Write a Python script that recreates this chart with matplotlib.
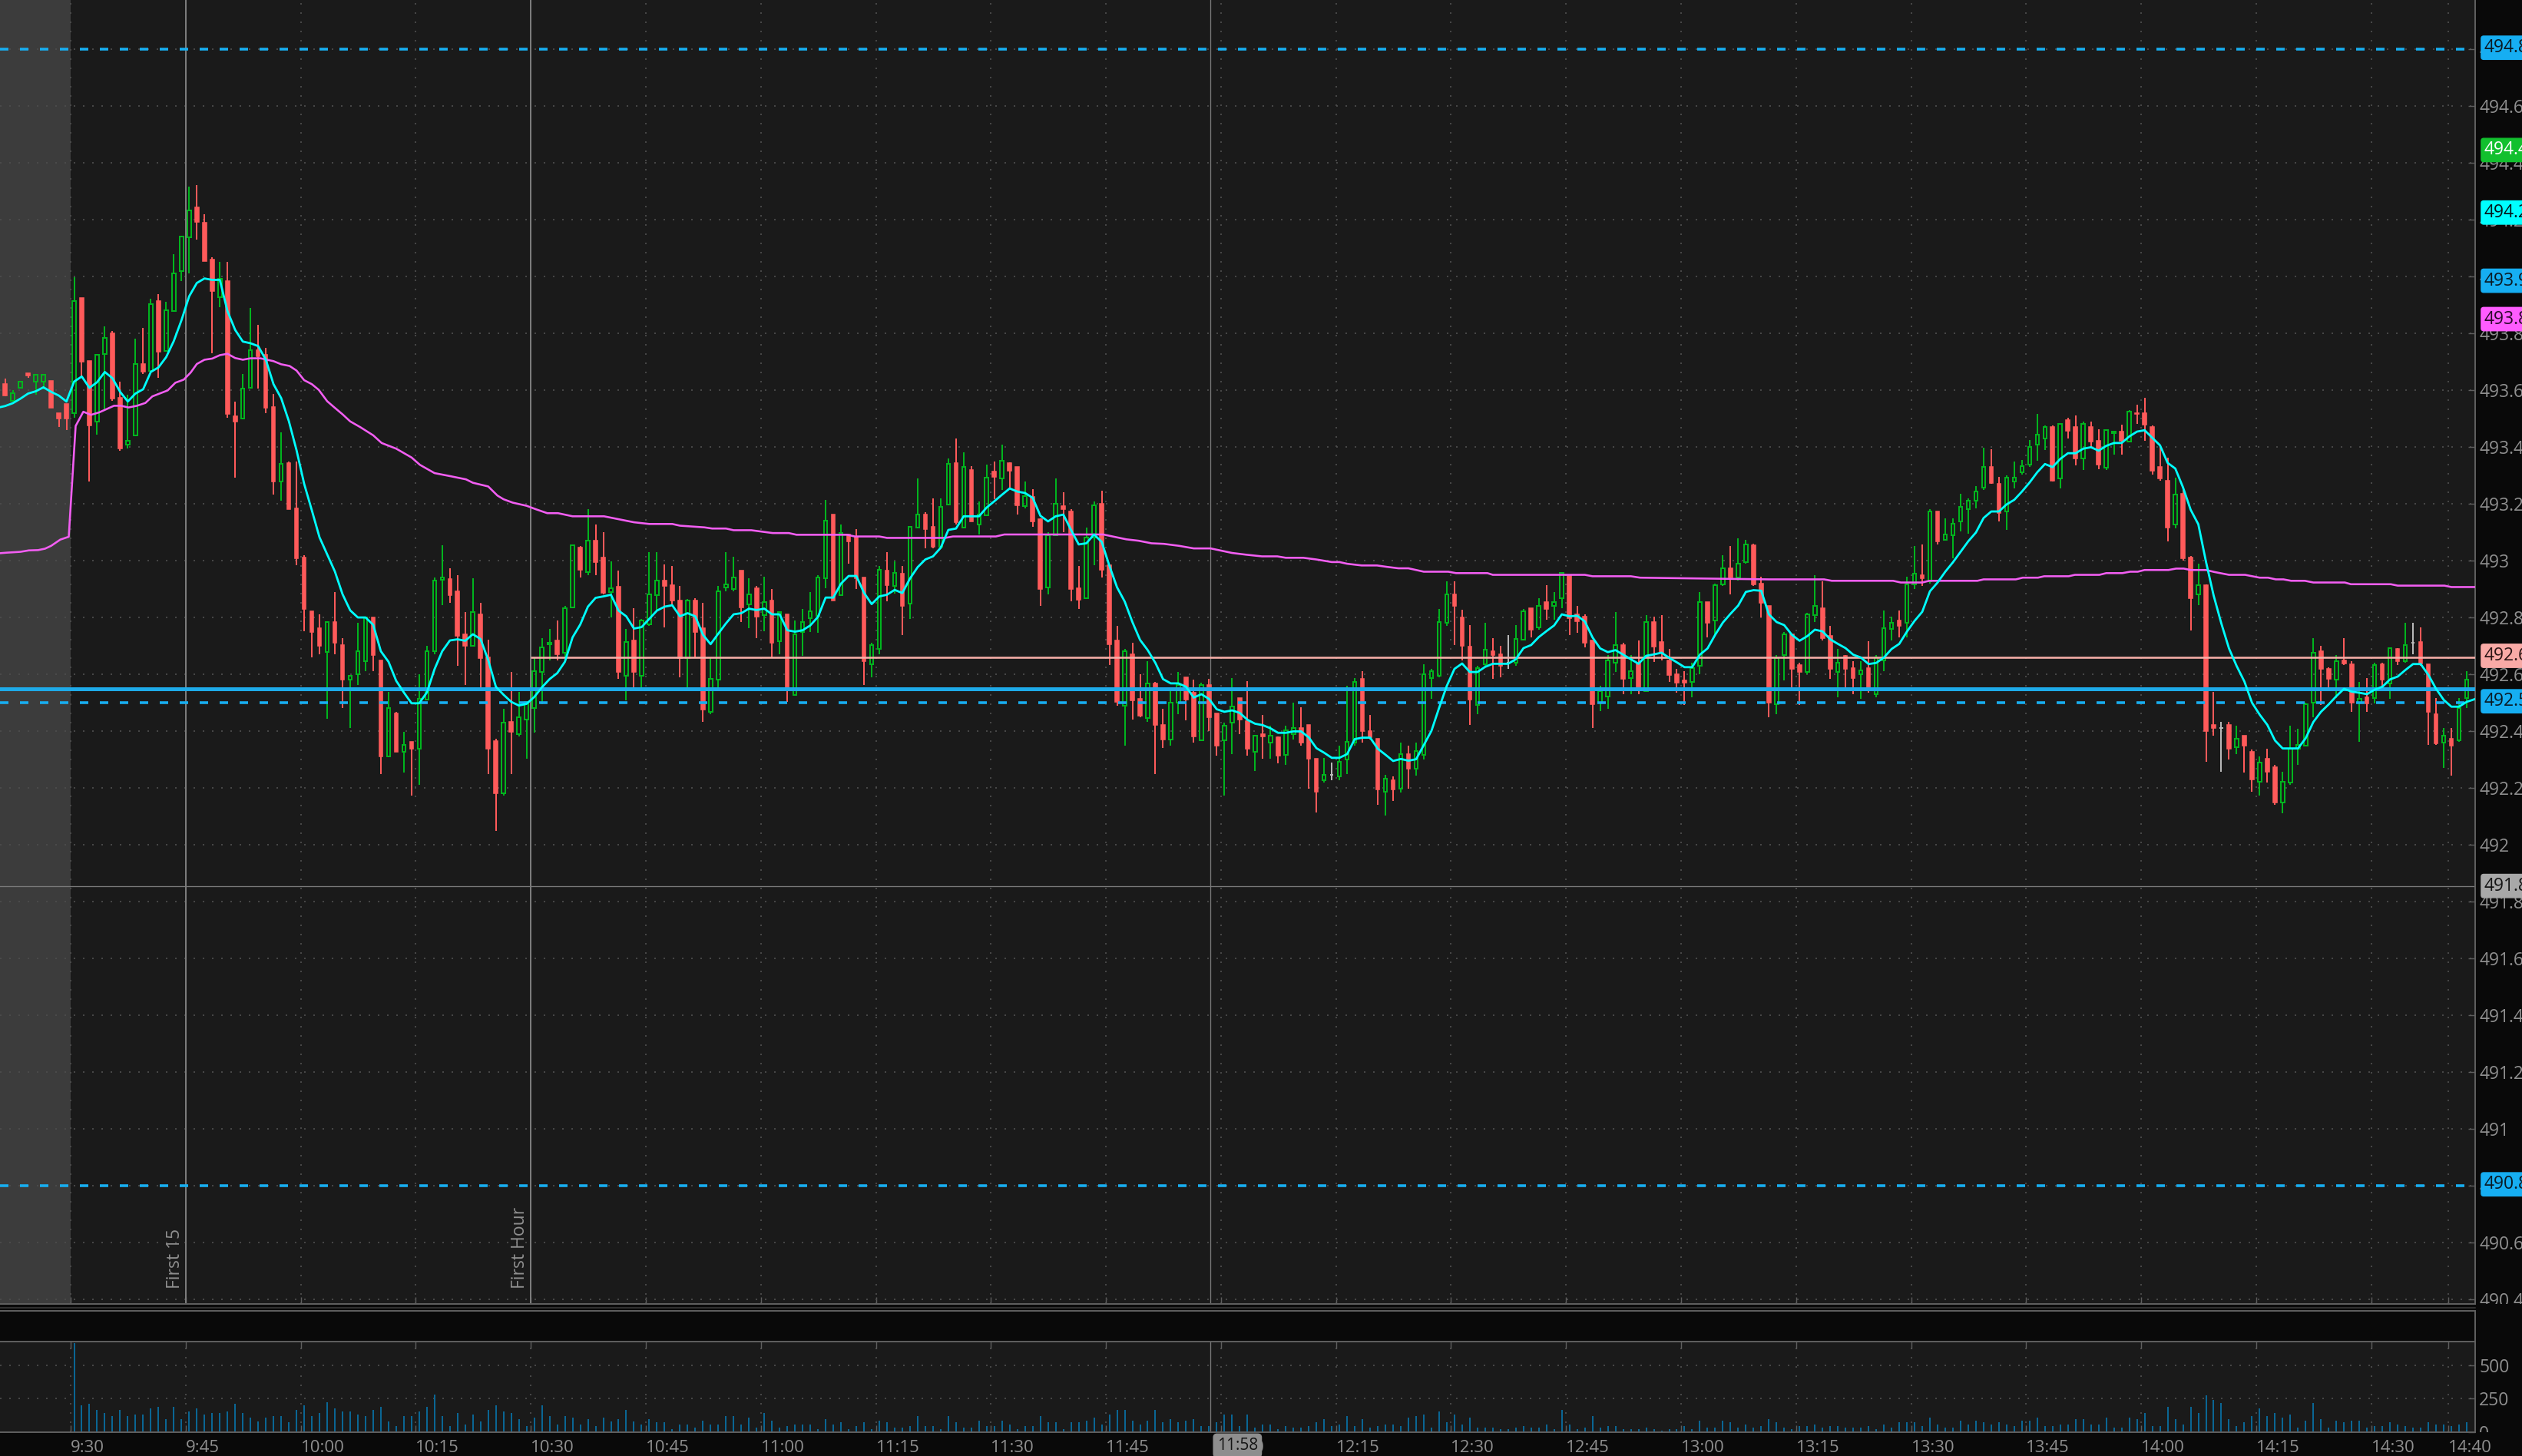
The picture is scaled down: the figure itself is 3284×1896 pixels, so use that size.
import matplotlib
matplotlib.use("Agg")
import matplotlib.pyplot as plt
from matplotlib.lines import Line2D
from matplotlib.transforms import Bbox
import numpy as np

plt.rcParams["font.family"] = ["Open Sans", "DejaVu Sans"]
plt.rcParams["lines.scale_dashes"] = False

# one minute candles, first row starts 9 bars before the 9:30 open
opens = [
493.623,493.562,493.608,493.660,493.630,493.630,493.632,493.519,493.551,
493.518,493.925,493.703,493.489,493.728,493.800,493.574,493.408,493.441,493.693,
493.668,493.913,493.738,493.878,494.018,494.139,494.244,494.190,494.060,493.928,
493.984,493.509,493.500,493.608,493.741,493.725,493.540,493.279,493.342,493.185,
493.011,492.822,492.763,492.678,492.784,492.703,492.582,492.600,492.647,492.800,
492.650,492.311,492.461,492.328,492.362,492.338,492.512,492.680,492.933,492.936,
492.892,492.740,492.700,492.812,492.660,492.364,492.181,492.432,492.388,492.442,
492.480,492.608,492.706,492.719,492.677,492.836,493.045,492.960,493.071,493.012,
492.888,492.909,492.596,492.720,492.596,492.775,492.878,492.930,492.914,492.860,
492.657,492.860,492.763,492.468,492.581,492.906,492.900,492.964,492.847,492.904,
492.809,492.860,492.716,492.811,492.527,492.748,492.797,492.806,492.939,493.162,
492.878,493.092,493.085,492.941,492.635,492.689,492.964,492.910,492.953,492.850,
493.115,493.162,493.120,493.050,493.198,493.342,493.117,493.320,493.128,493.160,
493.314,493.290,493.342,493.331,493.191,493.225,493.147,492.905,493.090,493.191,
493.174,492.904,492.867,493.081,493.201,492.984,492.720,492.490,492.671,492.514,
492.446,492.569,492.423,492.371,492.500,492.588,492.536,492.369,492.563,492.461,
492.369,492.430,492.515,492.434,492.326,492.390,492.360,492.378,492.317,492.390,
492.412,492.423,492.304,492.228,492.247,492.241,492.300,492.360,492.585,492.401,
492.374,492.186,492.228,492.198,492.320,492.268,492.317,492.587,492.596,492.781,
492.881,492.800,492.697,492.491,492.635,492.682,492.670,492.640,492.641,492.722,
492.833,492.764,492.854,492.840,492.867,492.950,492.811,492.802,492.719,492.500,
492.522,492.641,492.703,492.587,492.638,492.542,492.784,492.713,492.649,492.600,
492.578,492.572,492.631,492.854,492.788,492.917,492.973,492.940,492.995,493.054,
492.919,492.842,492.495,492.667,492.740,492.632,492.608,492.809,492.832,492.734,
492.608,492.665,492.622,492.600,492.622,492.529,492.649,492.759,492.788,492.782,
492.916,492.950,492.928,493.173,493.074,493.090,493.139,493.180,493.210,493.257,
493.330,493.270,493.173,493.279,493.311,493.339,493.408,493.430,493.471,493.290,
493.494,493.471,493.360,493.471,493.422,493.326,493.448,493.454,493.419,493.520,
493.520,493.471,493.331,493.282,493.128,493.234,493.011,492.880,492.913,492.422,
492.411,492.422,492.344,492.385,492.326,492.223,492.303,492.272,492.150,492.219,
492.339,492.350,492.499,492.681,492.618,492.582,492.649,492.634,492.500,492.520,
492.517,492.634,492.567,492.688,492.647,492.711,492.713,492.634,492.460,492.360,
492.373,492.368,492.517]
closes = [
493.580,493.590,493.631,493.651,493.653,493.653,493.537,493.500,493.500,
493.913,493.700,493.477,493.724,493.783,493.570,493.394,493.421,493.692,493.666,
493.902,493.736,493.880,494.010,494.140,494.232,494.191,494.055,493.948,493.991,
493.515,493.489,493.605,493.741,493.720,493.537,493.279,493.340,493.180,493.007,
492.830,492.748,492.700,492.783,492.711,492.581,492.594,492.680,492.800,492.667,
492.310,492.481,492.327,492.351,492.337,492.513,492.681,492.930,492.940,492.878,
492.736,492.700,492.820,492.656,492.337,492.180,492.431,492.397,492.448,492.503,
492.610,492.696,492.710,492.671,492.832,493.054,492.968,493.071,492.996,492.887,
492.903,492.608,492.714,492.608,492.790,492.881,492.930,492.910,492.860,492.658,
492.859,492.748,492.477,492.584,492.892,492.915,492.940,492.834,492.881,492.802,
492.853,492.710,492.820,492.545,492.740,492.783,492.821,492.940,493.140,492.860,
493.097,493.068,492.937,492.646,492.703,492.968,492.914,492.957,492.840,493.119,
493.162,493.110,493.048,493.189,493.340,493.135,493.329,493.138,493.162,493.292,
493.295,493.351,493.315,493.196,493.227,493.137,492.899,493.090,493.200,493.180,
492.900,492.861,493.081,493.195,492.969,492.705,492.504,492.682,492.509,492.455,
492.568,492.423,492.370,492.500,492.563,492.511,492.380,492.561,492.450,492.349,
492.420,492.486,492.440,492.337,492.385,492.380,492.383,492.315,492.404,492.410,
492.360,492.304,492.186,492.247,492.247,492.293,492.362,492.574,492.401,492.378,
492.196,492.232,492.196,492.318,492.268,492.329,492.600,492.611,492.783,492.881,
492.840,492.699,492.510,492.622,492.686,492.667,492.630,492.640,492.724,492.822,
492.758,492.842,492.829,492.854,492.957,492.797,492.786,492.710,492.495,492.540,
492.649,492.703,492.585,492.611,492.545,492.784,492.698,492.676,492.598,492.571,
492.570,492.623,492.854,492.781,492.913,492.973,492.940,492.988,493.058,492.917,
492.851,492.500,492.658,492.740,492.619,492.608,492.811,492.842,492.727,492.619,
492.642,492.619,492.587,492.614,492.550,492.659,492.761,492.782,492.770,492.917,
492.955,492.937,493.173,493.067,493.092,493.130,493.189,493.211,493.242,493.329,
493.272,493.169,493.291,493.291,493.333,493.399,493.443,493.470,493.282,493.482,
493.457,493.359,493.481,493.418,493.337,493.459,493.455,493.422,493.524,493.516,
493.479,493.317,493.289,493.117,493.232,493.008,492.867,492.913,492.401,492.410,
492.411,492.337,492.372,492.350,492.230,492.290,492.256,492.148,492.221,492.339,
492.352,492.496,492.675,492.618,492.585,492.647,492.639,492.500,492.513,492.497,
492.632,492.580,492.692,492.646,492.703,492.711,492.639,492.467,492.358,492.384,
492.350,492.482,492.582]
highs = [
493.641,493.600,493.631,493.660,493.653,493.653,493.632,493.519,493.551,
493.997,493.925,493.703,493.724,493.825,493.809,493.630,493.585,493.782,493.820,
493.922,493.938,493.911,494.079,494.140,494.317,494.322,494.219,494.067,494.052,
494.052,493.560,493.657,493.890,493.830,493.749,493.587,493.452,493.349,493.350,
493.020,492.822,492.810,492.787,492.890,492.727,492.594,492.782,492.800,492.800,
492.650,492.539,492.469,492.398,492.362,492.600,492.699,492.940,493.053,492.972,
492.950,492.820,492.939,492.852,492.722,492.372,492.479,492.608,492.539,492.503,
492.660,492.727,492.760,492.788,492.841,493.058,493.052,493.182,493.128,493.101,
492.997,492.966,492.760,492.832,492.796,493.030,493.030,492.987,492.982,492.912,
492.866,492.868,492.852,492.658,492.912,493.030,493.014,492.964,492.939,492.910,
492.944,492.900,492.820,492.811,492.788,492.830,492.890,492.950,493.214,493.162,
493.128,493.096,493.112,492.941,492.712,492.982,493.031,492.998,492.982,493.122,
493.290,493.171,493.220,493.220,493.360,493.430,493.381,493.333,493.209,493.338,
493.350,493.409,493.347,493.331,493.279,493.252,493.150,493.100,493.290,493.241,
493.180,492.982,493.117,493.209,493.247,492.984,492.770,492.690,492.712,492.600,
492.647,492.573,492.479,492.550,492.609,492.588,492.582,492.570,492.583,492.461,
492.430,492.587,492.515,492.577,492.385,492.458,492.420,492.380,492.419,492.500,
492.485,492.423,492.304,492.305,492.290,492.350,492.560,492.587,492.610,492.458,
492.374,492.246,492.241,492.360,492.350,492.360,492.636,492.620,492.830,492.928,
492.928,492.826,492.772,492.630,492.782,492.728,492.700,492.739,492.772,492.830,
492.833,492.869,492.913,492.890,492.960,492.950,492.842,492.811,492.719,492.560,
492.668,492.820,492.712,492.668,492.718,492.809,492.803,492.809,492.689,492.620,
492.611,492.640,492.890,492.854,492.920,493.020,493.052,493.079,493.074,493.060,
492.944,492.842,492.667,492.748,492.740,492.640,492.815,492.950,492.928,492.770,
492.689,492.668,492.647,492.647,492.716,492.667,492.824,492.804,492.824,492.944,
493.052,493.057,493.182,493.173,493.149,493.149,493.236,493.219,493.263,493.398,
493.393,493.295,493.300,493.350,493.354,493.425,493.516,493.475,493.475,493.485,
493.502,493.512,493.489,493.489,493.463,493.463,493.457,493.479,493.530,493.550,
493.572,493.475,493.406,493.361,493.291,493.258,493.015,492.988,492.915,492.539,
492.432,492.432,492.420,492.385,492.334,492.312,492.339,492.280,492.258,492.420,
492.408,492.500,492.727,492.700,492.625,492.668,492.728,492.646,492.572,492.587,
492.641,492.641,492.695,492.691,492.782,492.782,492.765,492.634,492.517,492.410,
492.410,492.517,492.610]
lows = [
493.578,493.562,493.608,493.642,493.585,493.603,493.537,493.470,493.459,
493.502,493.648,493.279,493.443,493.531,493.561,493.387,493.394,493.441,493.657,
493.668,493.643,493.738,493.878,493.983,494.010,494.129,494.055,493.729,493.892,
493.502,493.292,493.500,493.608,493.605,493.518,493.232,493.210,493.180,492.984,
492.751,492.660,492.670,492.443,492.670,492.481,492.412,492.562,492.610,492.610,
492.248,492.311,492.327,492.254,492.172,492.210,492.512,492.670,492.843,492.852,
492.631,492.562,492.700,492.546,492.248,492.048,492.174,492.248,492.380,492.302,
492.394,492.495,492.650,492.649,492.660,492.836,492.940,492.950,492.950,492.880,
492.799,492.583,492.507,492.541,492.540,492.770,492.820,492.766,492.842,492.588,
492.541,492.657,492.432,492.459,492.554,492.892,492.892,492.784,492.761,492.728,
492.752,492.657,492.670,492.503,492.527,492.665,492.748,492.746,492.903,492.860,
492.878,492.988,492.900,492.561,492.588,492.671,492.858,492.883,492.739,492.794,
493.115,493.043,493.043,493.040,493.198,493.128,493.117,493.138,493.092,493.160,
493.216,493.250,493.252,493.162,493.185,493.119,492.841,492.880,493.090,493.101,
492.858,492.831,492.867,492.984,492.940,492.632,492.490,492.350,492.441,492.450,
492.432,492.248,492.340,492.350,492.459,492.437,492.360,492.369,492.400,492.313,
492.173,492.318,492.389,492.313,492.259,492.303,492.302,492.287,492.281,492.370,
492.350,492.198,492.113,492.220,492.227,492.227,492.248,492.350,492.360,492.370,
492.140,492.102,492.155,492.183,492.198,492.243,492.300,492.513,492.588,492.770,
492.703,492.649,492.421,492.460,492.630,492.583,492.588,492.620,492.630,492.722,
492.730,492.757,492.793,492.793,492.833,492.739,492.746,492.695,492.410,492.470,
492.479,492.608,492.530,492.530,492.530,492.540,492.643,492.650,492.572,492.534,
492.491,492.518,492.600,492.730,492.740,492.910,492.881,492.930,492.990,492.910,
492.800,492.449,492.460,492.578,492.540,492.491,492.600,492.784,492.720,492.584,
492.518,492.550,492.530,492.513,492.534,492.518,492.610,492.718,492.730,492.730,
492.900,492.912,492.919,493.058,493.070,493.009,493.102,493.096,493.183,493.250,
493.270,493.139,493.108,493.254,493.302,493.330,493.351,493.389,493.278,493.254,
493.431,493.335,493.318,493.400,493.322,493.320,493.373,493.372,493.415,493.480,
493.422,493.303,493.280,493.068,493.113,493.000,492.755,492.843,492.291,492.383,
492.258,492.301,492.318,492.254,492.187,492.174,492.220,492.140,492.112,492.210,
492.280,492.345,492.448,492.491,492.550,492.515,492.632,492.468,492.362,492.468,
492.497,492.545,492.513,492.632,492.640,492.670,492.630,492.352,492.352,492.270,
492.243,492.362,492.481]

# volume from 9:30 on, no bars before the open
volumes = [
665,200,211,165,142,118,165,118,130,130,177,188,95,188,95,153,177,130,142,142,
153,211,142,107,83,107,118,118,72,165,200,118,142,223,177,153,153,130,118,165,
188,83,48,118,118,153,188,281,118,48,142,60,130,83,165,200,153,142,95,48,
107,200,118,60,118,107,60,95,48,107,83,95,165,83,60,95,72,72,25,60,
60,36,84,60,60,120,120,60,108,36,144,84,36,48,60,60,60,24,96,60,
72,24,48,72,24,84,72,36,36,48,120,48,48,24,120,72,36,36,84,48,
48,84,60,24,48,48,120,72,72,24,72,72,84,108,60,132,168,168,84,60,
84,168,72,96,72,84,96,48,48,72,132,132,48,132,36,60,60,24,48,36,
36,48,72,96,48,60,120,48,96,36,48,60,60,48,108,120,132,36,156,72,
132,60,108,36,36,36,24,24,36,48,36,36,60,24,168,60,24,36,120,36,
48,48,24,24,24,36,24,12,24,24,48,24,84,36,36,84,72,36,60,36,
48,96,72,36,24,48,48,60,36,48,48,36,36,36,48,24,60,36,72,72,
72,48,108,60,36,36,84,60,84,72,60,72,60,48,84,84,108,48,48,60,
60,96,96,60,60,108,36,36,108,96,144,48,48,192,96,60,192,144,276,240,
216,96,48,72,120,180,120,144,108,132,36,84,216,96,36,84,72,84,84,36,
48,48,72,60,48,36,36,72,60,60,48,60,72]

# fast average, one value per bar from just left of the chart to the right edge
ema_fast = [
493.538,493.544,493.554,493.570,493.588,493.596,493.610,493.594,493.581,493.560,
493.630,493.648,493.608,493.628,493.664,493.642,493.594,493.560,493.588,493.603,
493.664,493.680,493.716,493.773,493.846,493.930,493.977,493.993,493.988,493.988,
493.878,493.812,493.771,493.765,493.755,493.707,493.621,493.572,493.491,493.389,
493.270,493.177,493.082,493.022,492.962,492.882,492.825,492.800,492.800,492.774,
492.681,492.644,492.577,492.536,492.498,492.498,492.536,492.618,492.681,492.719,
492.723,492.718,492.741,492.724,492.650,492.556,492.528,492.503,492.490,492.496,
492.520,492.554,492.583,492.604,492.644,492.730,492.775,492.838,492.869,492.874,
492.880,492.824,492.804,492.761,492.766,492.795,492.824,492.838,492.843,492.804,
492.815,492.804,492.739,492.706,492.743,492.779,492.811,492.815,492.831,492.826,
492.831,492.811,492.811,492.755,492.750,492.755,492.772,492.802,492.870,492.870,
492.919,492.946,492.946,492.887,492.847,492.874,492.880,492.897,492.886,492.937,
492.977,493.004,493.015,493.045,493.108,493.113,493.156,493.156,493.156,493.187,
493.209,493.232,493.254,493.243,493.238,493.221,493.158,493.138,493.156,493.162,
493.108,493.057,493.061,493.092,493.066,492.982,492.906,492.856,492.784,492.721,
492.685,492.640,492.583,492.568,492.568,492.556,492.518,492.530,492.513,492.477,
492.468,492.473,492.464,492.440,492.426,492.421,492.410,492.394,492.394,492.399,
492.399,492.378,492.340,492.324,492.306,492.306,492.319,492.372,492.377,492.377,
492.338,492.317,492.295,492.302,492.296,492.301,492.351,492.401,492.482,492.559,
492.619,492.638,492.608,492.608,492.626,492.637,492.637,492.637,492.653,492.692,
492.703,492.731,492.752,492.772,492.811,492.804,492.806,492.786,492.730,492.691,
492.678,492.685,492.669,492.653,492.637,492.665,492.670,492.676,492.658,492.642,
492.625,492.625,492.669,492.691,492.739,492.782,492.813,492.842,492.890,492.896,
492.894,492.811,492.784,492.773,492.739,492.718,492.734,492.757,492.751,492.723,
492.707,492.692,492.669,492.659,492.636,492.640,492.659,492.689,492.707,492.750,
492.788,492.820,492.892,492.923,492.961,492.994,493.031,493.068,493.099,493.150,
493.173,493.173,493.198,493.214,493.243,493.275,493.311,493.340,493.329,493.358,
493.378,493.378,493.394,493.399,493.387,493.404,493.414,493.414,493.437,493.454,
493.459,493.432,493.406,493.344,493.324,493.258,493.179,493.128,492.996,492.877,
492.779,492.691,492.629,492.575,492.500,492.458,492.422,492.367,492.339,492.339,
492.339,492.375,492.432,492.468,492.494,492.523,492.549,492.539,492.535,492.530,
492.546,492.556,492.582,492.592,492.615,492.636,492.636,492.598,492.549,492.510,
492.486,492.486,492.503,492.512]

# slow line, read where it bends
slow_x = [-9.7,-8.8,-7,-5.9,-4.7,-3.8,-3,-1.8,-0.7,0.2,1.2,2.2,3.3,4.2,5.2,6.1,7.1,8.2,9.3,10.2,
          12.2,13.2,14.3,15.2,16,17,18,19,20,21,22,23,24.3,26,27,28.1,29,30,31,31.9,
          33,33.9,35,36,37.3,39,40.1,42,44,45.1,47,49.1,51.1,52,54,55.2,56,57.2,59,60.3,
          61.7,63.1,65,69.1,73,75,78,79,82.2,83.2,85,86,88.3,91.1,93.2,94.2,100.8,101.8,105,106,
          113.6,114.6,120.2,121.3,134.2,137.2,138.8,140.5,142.1,144.1,146,148.2,151,152.8,154.9,156.9,158,160.3,162,164,
          165,166,167.9,169.9,171.2,172.7,174,176,179.2,180.2,184.3,185,197,198,203,204.2,221,228.2,229.2,237.2,
          238.2,241,241.9,248.2,249,253.2,254.1,256.1,256.9,260.1,260.9,264.1,265,267.1,268.1,269.1,270,273.1,274.1,275.1,
          276,278,279.1,281,283.1,285,286.1,287.1,288.1,289.1,290.9,292,296.1,296.9,302.1,303,309.1,310,313.1]
slow_y = [493.026,493.028,493.031,493.036,493.037,493.042,493.052,493.074,493.084,493.474,493.524,493.513,493.522,493.533,493.545,493.545,493.539,493.545,493.555,493.578,
          493.599,493.626,493.637,493.662,493.692,493.707,493.711,493.723,493.728,493.713,493.707,493.712,493.712,493.702,493.691,493.685,493.669,493.635,493.621,493.601,
          493.561,493.540,493.515,493.490,493.470,493.441,493.414,493.394,493.363,493.337,493.308,493.297,493.286,493.274,493.261,493.229,493.216,493.204,493.193,493.180,
          493.167,493.167,493.156,493.156,493.135,493.129,493.129,493.123,493.117,493.113,493.113,493.107,493.107,493.097,493.097,493.091,493.091,493.085,493.085,493.080,
          493.080,493.085,493.085,493.092,493.092,493.075,493.070,493.061,493.059,493.052,493.043,493.043,493.027,493.021,493.015,493.015,493.010,493.010,493.004,492.995,
          492.995,492.989,492.983,492.983,492.978,492.973,492.973,492.961,492.961,492.956,492.956,492.950,492.950,492.945,492.945,492.940,492.934,492.934,492.929,492.929,
          492.923,492.923,492.929,492.929,492.934,492.934,492.940,492.940,492.945,492.945,492.950,492.950,492.956,492.956,492.961,492.961,492.967,492.967,492.972,492.972,
          492.967,492.967,492.960,492.950,492.950,492.940,492.940,492.934,492.934,492.929,492.929,492.923,492.923,492.917,492.917,492.912,492.912,492.907,492.907]

dashed_levels = [494.8, 492.5, 490.8]
solid_level = 492.55
pink_level = 492.66
cursor_price = 491.854

price_ticks = [494.8, 494.6, 494.4, 494.2, 494.0, 493.8, 493.6, 493.4, 493.2, 493.0, 492.8,
               492.6, 492.4, 492.2, 492.0, 491.8, 491.6, 491.4, 491.2, 491.0, 490.8, 490.6, 490.4]
price_labels = ["494.8", "494.6", "494.4", "494.2", "494", "493.8", "493.6", "493.4", "493.2", "493", "492.8",
                "492.6", "492.4", "492.2", "492", "491.8", "491.6", "491.4", "491.2", "491", "490.8", "490.6", "490.4"]
time_minutes = [0, 15, 30, 45, 60, 75, 90, 105, 120, 135, 150, 165, 180, 195, 210, 225, 240, 255, 270, 285, 300, 310]
time_labels = ["9:30", "9:45", "10:00", "10:15", "10:30", "10:45", "11:00", "11:15", "11:30", "11:45", "12:00",
               "12:15", "12:30", "12:45", "13:00", "13:15", "13:30", "13:45", "14:00", "14:15", "14:30", "14:40"]
# last price bubbles on the right axis: text, price position, fill, text colour
bubble_text = ["494.8", "494.4", "494.2", "493.9", "493.8", "492.6", "492.5", "491.8", "490.8"]
bubble_price = [494.805, 494.445, 494.225, 493.985, 493.85, 492.665, 492.505, 491.855, 490.805]
bubble_fill = ["#16aef2", "#12c02e", "#00ffff", "#16aef2", "#ff5cff", "#f9aaa6", "#16aef2", "#a8a8a8", "#16aef2"]
bubble_ink = ["#0a1a24", "#ffffff", "#06181c", "#0a1a24", "#2a0a2a", "#2a1414", "#0a1a24", "#141414", "#0a1a24"]

W, H, PX = 3284, 1896, 0.72
BG = "#1a1a1a"
BLACK = "#090909"
EDGE = "#5e5e5e"
GRID = "#4c4c4c"
TEXT = "#8f8f8f"
GREEN = "#00b41e"
RED = "#ff5a5a"

bars = np.arange(-9, 313)
tick_x = np.array(time_minutes) - 0.45
xlim = (-9.665, 313.1)


def frac_axes(top, bottom):
    return fig.add_axes([0, 1 - bottom / H, 3223 / W, (bottom - top) / H])


fig = plt.figure(figsize=(W / 100, H / 100), dpi=100, facecolor=BLACK)
ax = frac_axes(0, 1698)
band = frac_axes(1707, 1747)
ax_vol = frac_axes(1747, 1865)

for a in [ax, ax_vol]:
    a.set_facecolor(BG)
    a.set_xlim(xlim)
    a.set_xticks(tick_x)
    a.yaxis.tick_right()
    a.set_axisbelow(True)
    a.tick_params(axis="x", direction="in", length=9 * PX, width=1.4 * PX, color=EDGE, top=True, bottom=True)
    a.tick_params(axis="y", direction="in", length=9 * PX, width=1.4 * PX, color=EDGE, pad=3.6,
                  labelsize=16.5, labelcolor=TEXT)
    a.grid(True, color=GRID, linewidth=1.8 * PX, linestyle=(0, (2 * PX, 10 * PX)))
    for side, sp in a.spines.items():
        sp.set_color(EDGE)
        sp.set_linewidth(2 * PX)
    a.spines["left"].set_visible(False)
ax.spines["top"].set_visible(False)
ax.tick_params(axis="x", top=False, labelbottom=False)

band.set_facecolor(BLACK)
band.set_xticks([])
band.set_yticks([])
for side, sp in band.spines.items():
    sp.set_color(EDGE)
    sp.set_linewidth(2 * PX)
band.spines["left"].set_visible(False)
fig.add_artist(Line2D([0, 3223 / W], [1 - 1703 / H, 1 - 1703 / H], color="#3c3c3c", linewidth=1.5 * PX))

ax.set_ylim(490.384, 494.973)
ax.set_yticks(price_ticks)
ax.set_yticklabels(price_labels)
ax.axvspan(xlim[0], tick_x[0], color="#3c3c3c", zorder=0.5, linewidth=0)

# first 15 and first hour markers, cursor lines
for m, name in [(15, "First 15"), (60, "First Hour")]:
    ax.axvline(m - 0.45, color="#7c7c7c", linewidth=2 * PX, zorder=1.6)
    ax.annotate(name, xy=(m - 0.45, 0), xycoords=("data", "axes fraction"), xytext=(-10, 14.4),
                textcoords="offset points", rotation=90, ha="center", va="bottom",
                color=TEXT, fontsize=16.5, zorder=1.7)
for a in [ax, ax_vol]:
    a.axvline(148.2, color="#7a7a7a", linewidth=1.3 * PX, zorder=1.6)
ax.axhline(cursor_price, color="#7a7a7a", linewidth=1.3 * PX, zorder=1.6)

# candles
opens_a, closes_a = np.array(opens), np.array(closes)
highs_a, lows_a = np.array(highs), np.array(lows)
tops = np.maximum(opens_a, closes_a)
bottoms = np.minimum(opens_a, closes_a)
colors = np.where(closes_a > opens_a, GREEN, np.where(closes_a < opens_a, RED, "#b8b8b8"))
ax.vlines(bars, tops, highs_a, colors=colors, linewidth=2 * PX, zorder=2)
ax.vlines(bars, lows_a, bottoms, colors=colors, linewidth=2 * PX, zorder=2)
is_red = closes_a < opens_a
is_green = closes_a > opens_a
ax.bar(bars[is_red], (tops - bottoms)[is_red], bottom=bottoms[is_red], width=0.46,
       facecolor=RED, edgecolor=RED, linewidth=1.6 * PX, zorder=2.1)
ax.bar(bars[is_green], (tops - bottoms)[is_green], bottom=bottoms[is_green], width=0.46,
       facecolor="none", edgecolor=GREEN, linewidth=2 * PX, zorder=2.1)
is_doji = closes_a == opens_a
ax.hlines(opens_a[is_doji], bars[is_doji] - 0.22, bars[is_doji] + 0.22, colors="#b8b8b8", linewidth=2 * PX, zorder=2.1)

# level lines, the pink one only starts after the first hour
for lvl in dashed_levels:
    ax.axhline(lvl, color="#18aef0", linewidth=3.6 * PX, linestyle=(0, (11 * PX, 15 * PX)), zorder=3)
ax.axhline(solid_level, color="#1eaae8", linewidth=5 * PX, zorder=3)
ax.hlines(pink_level, 60 - 0.45, xlim[1], color="#f5aea8", linewidth=2.6 * PX, zorder=3)

# moving averages
ax.plot(slow_x, slow_y, color="#f25ef2", linewidth=2.6 * PX, zorder=3.1)
ax.plot(np.arange(-10, 314), ema_fast, color="#00ffff", linewidth=2.8 * PX, zorder=3.2)

for txt, y, fc, ink in zip(bubble_text, bubble_price, bubble_fill, bubble_ink):
    ax.annotate(txt, xy=(1, y), xycoords=("axes fraction", "data"), xytext=(8, 0), textcoords="offset points",
                ha="left", va="center", fontsize=16.5, color=ink, annotation_clip=False, zorder=5,
                bbox=dict(boxstyle="round,pad=0.14", facecolor=fc, edgecolor=fc, linewidth=1))

# volume panel
ax_vol.set_ylim(0, 678)
ax_vol.set_yticks([0, 250, 500])
ax_vol.set_yticklabels(["0", "250", "500"])
ax_vol.vlines(np.arange(0, len(volumes)), 0, volumes, colors="#0a6694", linewidth=2 * PX, zorder=2)
ax_vol.set_xticklabels(time_labels, ha="left", fontsize=16, color=TEXT)
ax_vol.tick_params(axis="x", pad=7, labelcolor=TEXT, labelsize=16)
ax_vol.annotate("11:58", xy=(151.7, 0), xycoords=("data", "axes fraction"), xytext=(0, -12.5),
                textcoords="offset points", ha="center", va="center", fontsize=15, color="#141414",
                annotation_clip=False, zorder=6,
                bbox=dict(boxstyle="round,pad=0.22", facecolor="#8e8e8e", edgecolor="#8e8e8e"))

# bottom tick labels on the right axis get cut by their panel
fig.canvas.draw()
for a, bottom_px in [(ax, 1698), (ax_vol, 1865)]:
    lab = a.get_yticklabels()[-1 if a is ax else 0]
    lab.set_clip_on(True)
    lab.set_clip_box(Bbox([[3224, H - bottom_px], [W, H]]))

fig.savefig("out.png", dpi=100, facecolor=BLACK)
